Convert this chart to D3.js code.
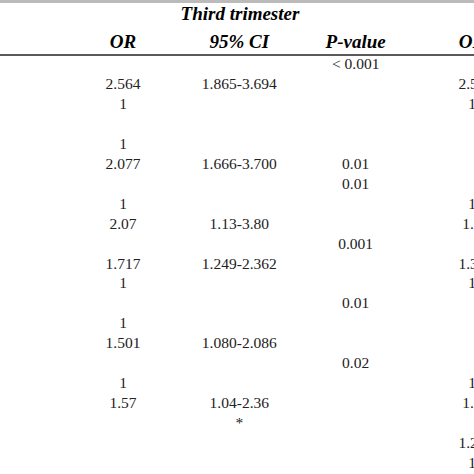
<!DOCTYPE html>
<html><head><meta charset="utf-8">
<script src="https://cdn.jsdelivr.net/npm/d3@7"></script>
<style>body{margin:0;background:#fff}</style>
</head><body>
<svg id="t" width="474" height="474"></svg>
<script>
// DATA: [row, text]
const columns = ["OR", "95% CI", "P-value", "OR"];
const orVals = [[1,"2.564"],[2,"1"],[4,"1"],[5,"2.077"],[7,"1"],[8,"2.07"],[10,"1.717"],[11,"1"],[13,"1"],[14,"1.501"],[16,"1"],[17,"1.57"]];
const ciVals = [[1,"1.865-3.694"],[5,"1.666-3.700"],[8,"1.13-3.80"],[10,"1.249-2.362"],[14,"1.080-2.086"],[17,"1.04-2.36"],[18,"*"]];
const pVals = [[0,"< 0.001"],[5,"0.01"],[6,"0.01"],[9,"0.001"],[12,"0.01"],[15,"0.02"]];
const or2Vals = [[1,"2.53"],[2,"1"],[7,"1"],[8,"1.2"],[10,"1.36"],[11,"1"],[16,"1"],[17,"1.3"],[19,"1.28"],[20,"1"]];

const svg = d3.select("#t");
const font = "'Liberation Serif', 'DejaVu Serif', serif";
const x = d3.scalePoint().domain(d3.range(columns.length)).range([123, 472]);
const y = d3.scaleLinear().domain([0, 20]).range([64, 463]);

// top rule
svg.append("rect").attr("x",0).attr("y",0).attr("width",474).attr("height",3).attr("fill","#bbb");
svg.append("text").attr("x",240).attr("y",20).attr("text-anchor","middle")
  .attr("font-family",font).attr("font-weight","bold").attr("font-style","italic")
  .attr("font-size",19).text("Third trimester");

svg.selectAll(".hd").data(columns).enter().append("text")
  .attr("x",(d,i)=>x(i)).attr("y",48).attr("text-anchor","middle")
  .attr("font-family",font).attr("font-weight","bold").attr("font-style","italic")
  .attr("font-size",19).text(d=>d);
svg.append("line").attr("x1",0).attr("x2",474).attr("y1",55).attr("y2",55)
  .attr("stroke","#222").attr("stroke-width",1.5);

[orVals, ciVals, pVals, or2Vals].forEach((col, ci) => {
  svg.selectAll(".c"+ci).data(col).enter().append("text")
    .attr("x", x(ci)).attr("y", d => y(d[0]) + 5)
    .attr("text-anchor","middle").attr("font-family",font)
    .attr("font-size",15.5).attr("fill","#222").text(d => d[1]);
});
</script>
</body></html>
